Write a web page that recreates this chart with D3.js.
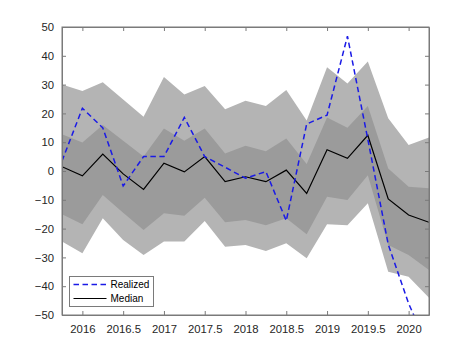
<!DOCTYPE html>
<html>
<head>
<meta charset="utf-8">
<script src="https://cdn.jsdelivr.net/npm/d3@7"></script>
<style>
  html, body { margin: 0; padding: 0; background: #fff; }
  svg { display: block; font-family: "Liberation Sans", Arial, Helvetica, sans-serif; }
</style>
</head>
<body>
<svg id="chart" width="474" height="355"></svg>
<script>
const dates = [2015.75, 2016, 2016.25, 2016.5, 2016.75, 2017, 2017.25, 2017.5, 2017.75,
               2018, 2018.25, 2018.5, 2018.75, 2019, 2019.25, 2019.5, 2019.75, 2020, 2020.25];
const outerUpper = [30.0, 27.8, 30.8, 24.8, 18.8, 32.6, 26.6, 29.5, 21.4, 24.4, 22.6, 28.1, 17.5, 36.0, 30.4, 38.0, 18.3, 9.0, 11.6];
const innerUpper = [12.8, 9.9, 16.0, 10.5, 5.0, 14.8, 10.5, 14.8, 6.1, 8.8, 6.9, 11.3, 2.4, 18.6, 15.0, 22.6, 0.9, -5.5, -6.0];
const median     = [1.5, -1.7, 5.9, -1.0, -6.4, 2.7, -0.3, 5.0, -3.7, -2.0, -3.7, 0.3, -7.8, 7.4, 4.4, 12.4, -9.7, -15.3, -17.8];
const innerLower = [-15.0, -18.5, -8.3, -14.5, -20.5, -14.7, -15.5, -9.3, -17.8, -17.0, -18.8, -16.4, -22.0, -8.9, -10.1, -1.5, -25.7, -29.2, -34.4];
const outerLower = [-24.5, -28.6, -16.4, -24.0, -29.2, -24.5, -24.5, -17.4, -26.3, -25.7, -27.8, -25.1, -30.3, -18.5, -18.8, -11.2, -35.0, -36.7, -44.0];
const realized   = [3.5, 21.8, 15.0, -5.2, 5.0, 5.0, 18.6, 5.0, 1.3, -2.5, -0.2, -17.3, 16.3, 19.4, 46.8, 11.0, -25.5, -46.0, -62.0];
const xTicks = [2016, 2016.5, 2017, 2017.5, 2018, 2018.5, 2019, 2019.5, 2020];
const yTicks = [-50, -40, -30, -20, -10, 0, 10, 20, 30, 40, 50];
const seriesNames = ["Realized", "Median"];

const pL = 62, pR = 429, pT = 27, pB = 315;
const svg = d3.select("#chart");
const x = d3.scaleLinear().domain([2015.75, 2020.25]).range([pL, pR]);
const y = d3.scaleLinear().domain([-50, 50]).range([pB, pT]);

svg.append("defs").append("clipPath").attr("id", "plotclip")
  .append("rect").attr("x", pL).attr("y", pT).attr("width", pR - pL).attr("height", pB - pT);

const g = svg.append("g").attr("clip-path", "url(#plotclip)");
const idx = d3.range(dates.length);

const band = (hi, lo) => d3.area().x(i => x(dates[i])).y0(i => y(lo[i])).y1(i => y(hi[i]));
g.append("path").datum(idx).attr("d", band(outerUpper, outerLower)).attr("fill", "#b4b4b4");
g.append("path").datum(idx).attr("d", band(innerUpper, innerLower)).attr("fill", "#9b9b9b");

const line = arr => d3.line().x(i => x(dates[i])).y(i => y(arr[i]));
g.append("path").datum(idx).attr("d", line(median)).attr("fill", "none")
  .attr("stroke", "#000").attr("stroke-width", 1.2);
g.append("path").datum(idx).attr("d", line(realized)).attr("fill", "none")
  .attr("stroke", "#1a1ae6").attr("stroke-width", 1.5).attr("stroke-dasharray", "5.5,3.5");

// Axes (box with inward ticks)
const axisColor = "#7a7a7a";
const tickLen = 4;
const axes = svg.append("g");
axes.append("g").attr("transform", `translate(0,${pB})`)
  .call(d3.axisBottom(x).tickValues(xTicks).tickSizeInner(-tickLen).tickSizeOuter(0).tickPadding(10).tickFormat(d3.format("")));
axes.append("g").attr("transform", `translate(0,${pT})`)
  .call(d3.axisTop(x).tickValues(xTicks).tickSizeInner(-tickLen).tickSizeOuter(0).tickFormat(""));
axes.append("g").attr("transform", `translate(${pL},0)`)
  .call(d3.axisLeft(y).tickValues(yTicks).tickSizeInner(-tickLen).tickSizeOuter(0).tickPadding(8).tickFormat(d3.format("")));
axes.append("g").attr("transform", `translate(${pR},0)`)
  .call(d3.axisRight(y).tickValues(yTicks).tickSizeInner(-tickLen).tickSizeOuter(0).tickFormat(""));
axes.selectAll(".domain").attr("stroke", axisColor);
axes.selectAll(".tick line").attr("stroke", axisColor);
axes.selectAll(".tick text").attr("fill", "#262626").attr("font-size", "11.3px")
  .attr("font-family", "'Liberation Sans', Arial, sans-serif");
axes.append("rect").attr("x", pL).attr("y", pT).attr("width", pR - pL).attr("height", pB - pT)
  .attr("fill", "none").attr("stroke", axisColor).attr("stroke-width", 1);

// Legend
const lg = svg.append("g");
lg.append("rect").attr("x", 69.5).attr("y", 276.5).attr("width", 84).attr("height", 30)
  .attr("fill", "#fff").attr("stroke", "#7a7a7a");
const legendStyles = [
  { color: "#1a1ae6", width: 1.5, dash: "5.5,3.5" },
  { color: "#000", width: 1.2, dash: null }
];
seriesNames.forEach((name, k) => {
  const yy = 284.5 + k * 14;
  lg.append("line").attr("x1", 73.5).attr("x2", 106.5).attr("y1", yy).attr("y2", yy)
    .attr("stroke", legendStyles[k].color).attr("stroke-width", legendStyles[k].width)
    .attr("stroke-dasharray", legendStyles[k].dash);
  lg.append("text").attr("x", 110.5).attr("y", yy + 3.6).attr("font-size", "10px")
    .attr("fill", "#000").text(name);
});
</script>
</body>
</html>
